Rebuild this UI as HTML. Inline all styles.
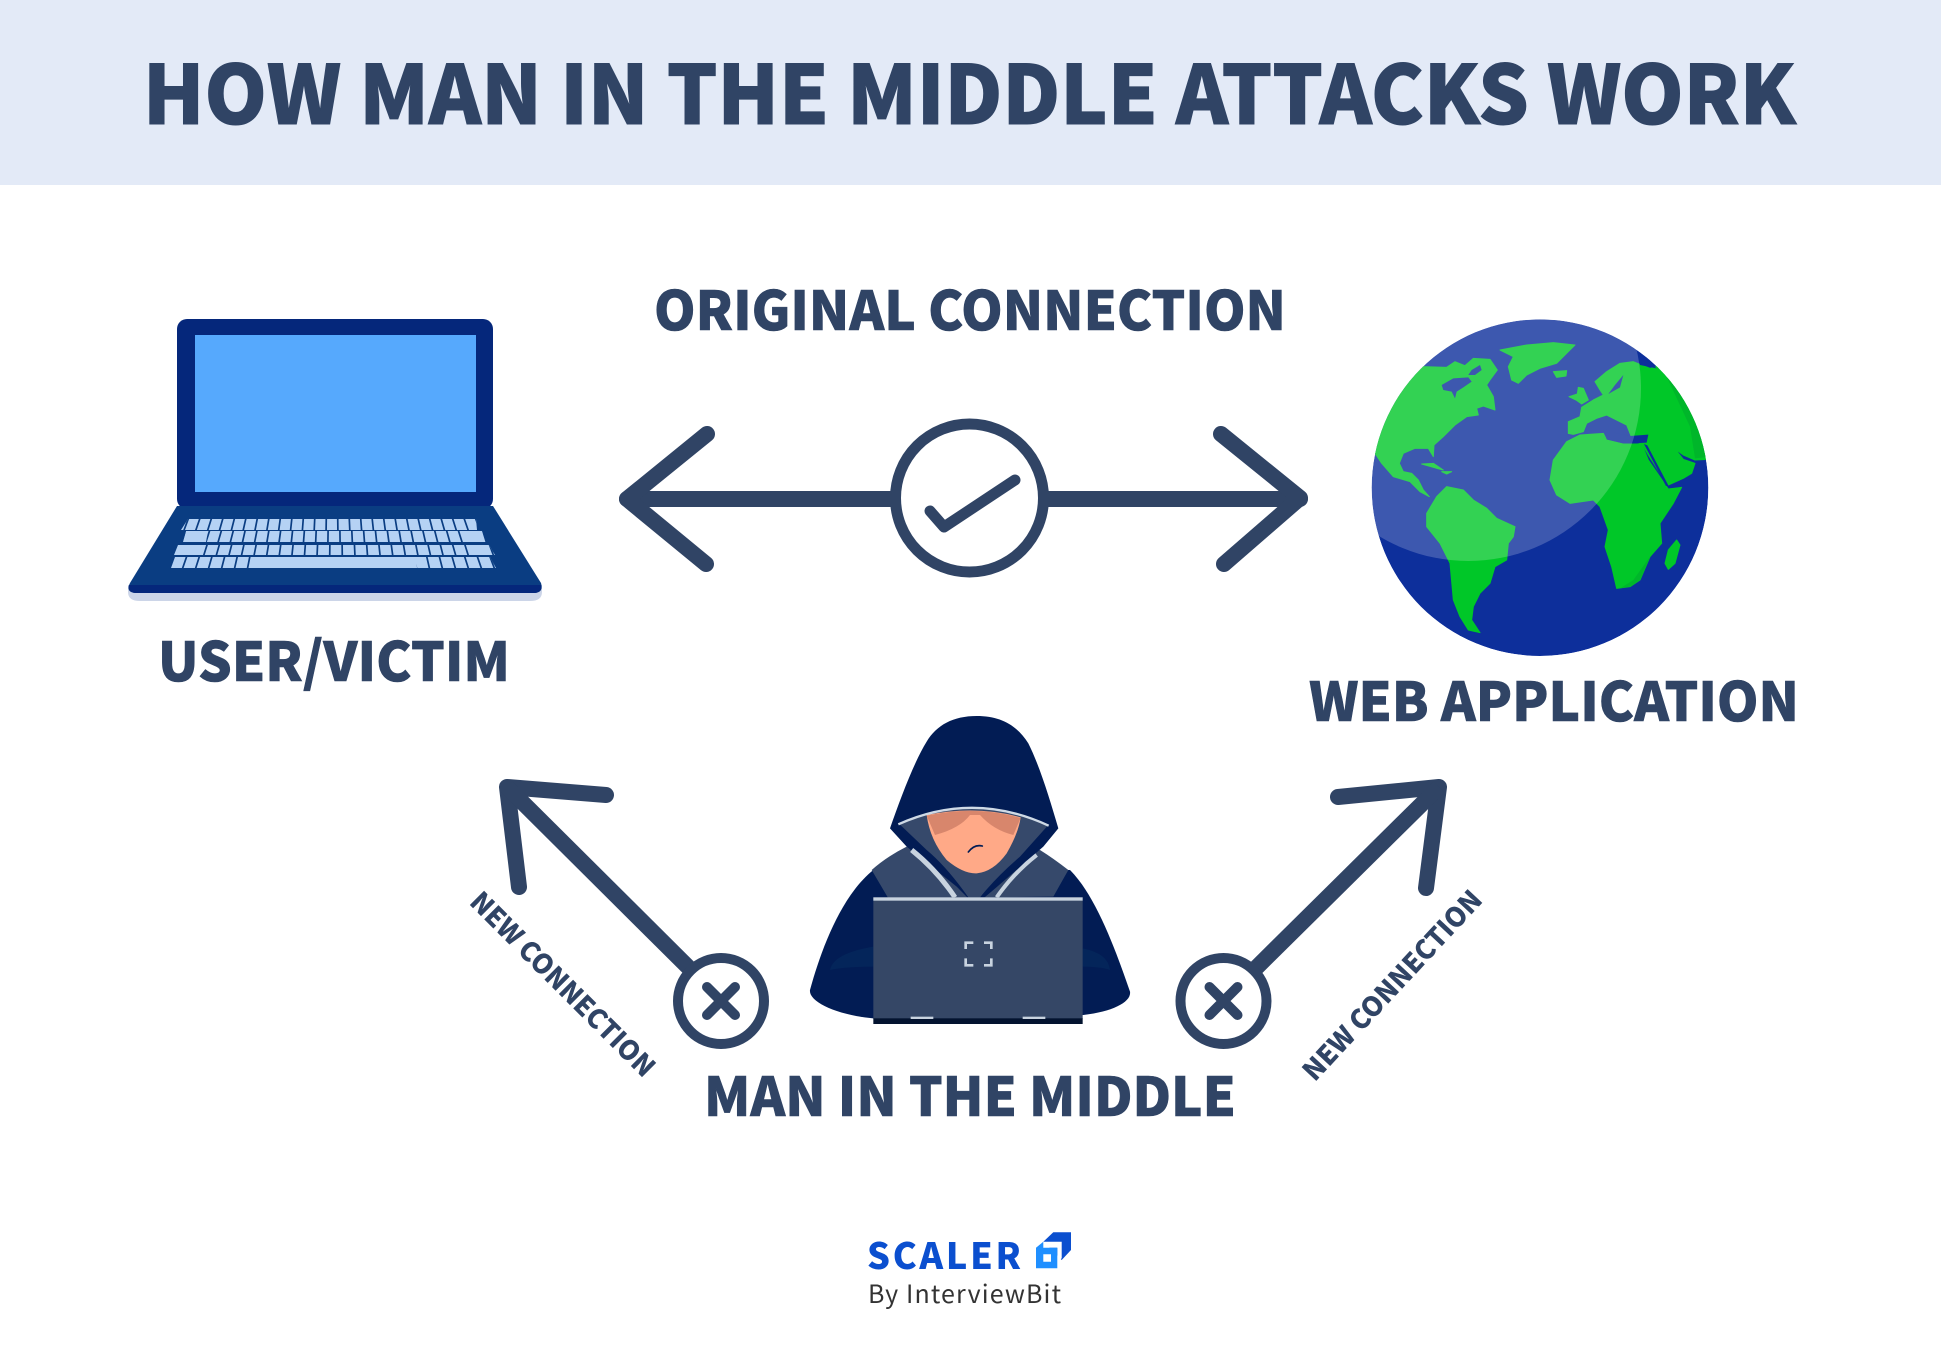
<!DOCTYPE html>
<html lang="en">
<head>
<meta charset="utf-8">
<title>How Man in the Middle Attacks Work</title>
<style>
html,body{margin:0;padding:0;background:#fff;width:1941px;height:1350px;overflow:hidden}
svg{display:block}
text{font-family:"Noto Sans CJK JP","Liberation Sans",sans-serif;font-weight:900;fill:#304465}
</style>
</head>
<body>
<svg xmlns="http://www.w3.org/2000/svg" width="1941" height="1350" viewBox="0 0 1941 1350">
<defs>
  <path id="fan" fill="none" stroke="#0a3d82" stroke-width="1.7" d="M332 138L338.5 570M332 138L351.6 570M332 138L364.6 570M332 138L377.6 570M332 138L390.7 570M332 138L403.7 570M332 138L416.8 570M332 138L429.8 570M332 138L442.8 570M332 138L455.9 570M332 138L468.9 570M332 138L482 570M332 138L495 570M332 138L325.5 570M332 138L312.4 570M332 138L299.4 570M332 138L286.4 570M332 138L273.3 570M332 138L260.3 570M332 138L247.2 570M332 138L234.2 570M332 138L221.2 570M332 138L208.1 570M332 138L195.1 570M332 138L182 570M332 138L169 570"/>
  <clipPath id="r1"><polygon points="188,519 476,519 477,530 181,530"/></clipPath>
  <clipPath id="r2"><polygon points="184,531 482,531 489,542 180,542"/></clipPath>
  <clipPath id="r3"><polygon points="178,545 489,545 495,555 174,555"/></clipPath>
  <clipPath id="r4"><polygon points="175,557 490,557 496,568 171,568"/></clipPath>
  <clipPath id="globe"><circle cx="600" cy="563" r="505"/></clipPath>
</defs>

<!-- header -->
<rect x="0" y="0" width="1941" height="185" fill="#e3eaf7"/>
<text x="143" y="124" font-size="81" textLength="1653" lengthAdjust="spacingAndGlyphs" stroke="#304465" stroke-width="1">HOW MAN IN THE MIDDLE ATTACKS WORK</text>

<!-- labels -->
<text x="654" y="330" font-size="54" textLength="632" lengthAdjust="spacingAndGlyphs" stroke="#304465" stroke-width="0.6">ORIGINAL CONNECTION</text>
<text x="158" y="681" font-size="54" textLength="352" lengthAdjust="spacingAndGlyphs" stroke="#304465" stroke-width="0.6">USER/VICTIM</text>
<text x="1309" y="721" font-size="54" textLength="490" lengthAdjust="spacingAndGlyphs" stroke="#304465" stroke-width="0.6">WEB APPLICATION</text>
<text x="704" y="1116" font-size="54" textLength="532" lengthAdjust="spacingAndGlyphs" stroke="#304465" stroke-width="0.6">MAN IN THE MIDDLE</text>

<!-- laptop -->
<path d="M128 585 L128 592 Q128 601 140 601 L530 601 Q542 601 542 592 L542 585 Z" fill="#ccd5e8"/>
<rect x="177" y="319" width="316" height="190" rx="10" fill="#05277b"/>
<rect x="195" y="335" width="281" height="157" fill="#56a9fd"/>
<path d="M177 506 L493 506 L541 583 Q544 593 533 593 L137 593 Q125 593 130 583 Z" fill="#0a3d82"/>
<path d="M129 585 L541 585 Q543 593 533 593 L137 593 Q127 593 129 585 Z" fill="#05277b"/>
<polygon points="188,519 476,519 477,530 181,530" fill="#b5d2f4"/>
<polygon points="184,531 482,531 489,542 180,542" fill="#b5d2f4"/>
<polygon points="178,545 489,545 495,555 174,555" fill="#b5d2f4"/>
<polygon points="175,557 490,557 496,568 171,568" fill="#b5d2f4"/>
<g clip-path="url(#r1)"><use href="#fan"/></g>
<g clip-path="url(#r2)"><use href="#fan" x="2"/></g>
<g clip-path="url(#r3)"><use href="#fan" x="4"/></g>
<g clip-path="url(#r4)"><use href="#fan"/></g>
<polygon points="186,531 208,531 206,542 183,542" fill="#b5d2f4"/>
<polygon points="468,531 482,531 489,542 472,542" fill="#b5d2f4"/>
<polygon points="180,545 203,545 201,555 177,555" fill="#b5d2f4"/>
<polygon points="473,545 487,545 489,555 478,555" fill="#b5d2f4"/>
<polygon points="251,557 416,557 417,568 250,568" fill="#b5d2f4"/>
<polygon points="181,531 186,531 183,542 180,542" fill="#0a3d82"/>
<polygon points="482,531 490,531 490,545 486,544" fill="#0a3d82"/>

<!-- main arrow -->
<g fill="none" stroke="#304465" stroke-linecap="round" stroke-linejoin="round">
  <path d="M627 499 H1300" stroke-width="16"/>
  <path d="M707 434 L627 499 L706 564" stroke-width="16"/>
  <path d="M1221 434 L1300 498 L1224 564" stroke-width="16"/>
</g>
<circle cx="969.5" cy="498" r="74" fill="#fff" stroke="#304465" stroke-width="11"/>
<path d="M930 511 L944 527 L1015 480" fill="none" stroke="#304465" stroke-width="11" stroke-linecap="round" stroke-linejoin="round"/>

<!-- globe -->
<g transform="translate(1340 300) scale(0.33333)">
  <g clip-path="url(#globe)">
    <circle cx="600" cy="563" r="505" fill="#0d2f9b"/>
    <g fill="#00c728" stroke="#00c728" stroke-width="3" stroke-linejoin="round">
      <path d="M40 300 L150 180 L250 200 L320 202 L345 185 L375 197 L400 175 L450 178 L472 210 L450 240 L440 255 L460 290 L465 330 L430 318 L410 325 L415 345 L380 350 L345 375 L310 410 L282 435 L280 470 L265 445 L225 445 L190 460 L178 490 L190 515 L215 520 L235 540 L250 570 L268 590 L240 575 L210 545 L160 530 L125 490 L105 460 L60 440 Z"/>
      <path d="M480 150 L560 135 L640 128 L705 135 L680 160 L650 190 L600 205 L560 225 L535 250 L515 240 L505 200 L520 170 Z"/>
      <path d="M640 215 L680 212 L678 228 L650 232 Z"/>
      <path d="M687 290 L712 282 L715 262 L730 265 L745 300 L725 312 L708 300 Z"/>
      <path d="M685 400 L685 365 L720 350 L725 322 L760 300 L790 285 L780 270 L765 245 L800 215 L840 190 L880 185 L930 205 L950 200 L1010 220 L1130 400 L1110 478 L1065 480 L1030 465 L1005 447 L1030 478 L1065 490 L1055 520 L1030 535 L985 555 L960 520 L925 465 L905 430 L880 425 L870 400 L860 375 L830 360 L800 345 L770 355 L740 370 L730 395 L700 403 Z"/>
      <path d="M630 540 L640 480 L680 425 L720 405 L790 400 L800 420 L850 432 L905 432 L925 480 L985 567 L1025 562 L1000 610 L960 670 L965 730 L930 770 L900 840 L870 860 L830 865 L815 800 L795 740 L805 690 L780 620 L760 600 L690 610 L650 585 Z"/>
      <path d="M260 640 L290 590 L320 560 L370 570 L400 600 L440 625 L470 655 L525 680 L520 710 L505 730 L500 780 L465 800 L450 850 L420 880 L400 920 L395 960 L420 998 L385 990 L360 950 L340 900 L330 790 L300 730 L260 680 Z"/>
      <path d="M1010 720 L1020 735 L1005 790 L985 808 L975 790 L985 750 Z"/>
      <path d="M245 492 L280 490 L310 510 L290 505 Z"/>
      <path d="M305 515 L335 515 L320 522 Z"/>
    </g>
    <path d="M980 230 L1060 300 L1110 470 L1065 475 L1050 380 Z" fill="#00b62a"/>
    <path d="M930 770 L900 840 L870 860 L840 865 L880 840 Z" fill="#00b62a"/>
    <g fill="#0d2f9b">
      <path d="M305 255 L340 235 L385 232 L395 245 L370 262 L350 275 L345 295 L335 275 L310 270 Z"/>
      <path d="M395 210 L420 195 L425 210 L405 225 L385 225 Z"/>
      <path d="M825 255 L850 225 L840 262 L805 282 Z"/>
      <path d="M795 400 L805 378 L822 398 L870 408 L925 404 L920 428 L880 430 L850 430 L800 418 Z"/>
      <path d="M912 432 L922 436 L985 556 L978 558 Z"/>
      <path d="M885 150 L950 205 L900 195 Z"/>
    </g>
    <circle cx="385" cy="265" r="518" fill="#ffffff" fill-opacity="0.2"/>
  </g>
</g>

<!-- hacker -->
<g transform="translate(780 700) scale(0.33333)">
  <path d="M280 510 C180 590 120 760 90 870 C85 905 170 945 280 955 L910 945 C1000 935 1055 905 1050 875 C1010 760 950 590 870 510 Z" fill="#021c54"/>
  <path d="M150 810 Q160 760 280 740 L280 800 Q200 800 150 810 Z" fill="#04255a"/>
  <path d="M990 810 Q985 760 908 745 L908 800 Q960 800 990 810 Z" fill="#04255a"/>
  <path d="M380 440 Q320 470 275 510 L325 595 L820 590 L865 510 Q820 475 780 450 Z" fill="#36496b"/>
  <path d="M590 48 C665 48 712 78 745 130 C780 200 810 300 835 385 L790 440 L640 570 L610 595 L565 595 L530 560 L380 440 L330 385 C360 300 400 190 440 125 C470 75 520 48 590 48 Z" fill="#021c54"/>
  <path d="M358 372 Q580 275 805 375 L720 470 Q650 530 600 592 L565 592 Q500 500 440 450 Z" fill="#36496b"/>
  <path d="M440 345 Q450 420 500 480 Q550 522 590 520 Q640 515 680 460 Q715 400 722 352 Q590 315 440 345 Z" fill="#ffa987"/>
  <path d="M440 347 Q590 315 722 354 L700 405 Q640 390 600 345 L570 345 Q540 385 465 405 Z" fill="#d8866c"/>
  <path d="M355 373 Q580 272 806 377" fill="none" stroke="#cfdae6" stroke-width="7"/>
  <path d="M395 450 Q470 510 525 592" fill="none" stroke="#c8d3df" stroke-width="15"/>
  <path d="M770 465 Q700 520 650 592" fill="none" stroke="#c8d3df" stroke-width="12"/>
  <path d="M565 456 Q583 432 607 438" fill="none" stroke="#021c54" stroke-width="5" stroke-linecap="round"/>
  <rect x="280" y="592" width="628" height="365" fill="#354766"/>
  <rect x="280" y="592" width="628" height="10" fill="#c8d3df"/>
  <rect x="280" y="955" width="628" height="17" fill="#03132f"/>
  <rect x="392" y="950" width="68" height="7" fill="#c8d3df"/>
  <rect x="728" y="950" width="68" height="7" fill="#c8d3df"/>
  <path d="M557 747 V728 H580 M612 728 H634 V747 M557 775 V796 H580 M612 796 H634 V775" fill="none" stroke="#c8d3df" stroke-width="8"/>
</g>

<!-- left diagonal arrow -->
<g fill="none" stroke="#304465" stroke-linecap="round" stroke-linejoin="round" stroke-width="16">
  <path d="M606 795 L507 787 L519 887"/>
  <path d="M507 787 L690 969" stroke-linecap="butt"/>
</g>
<circle cx="721" cy="1001" r="43" fill="#fff" stroke="#304465" stroke-width="10"/>
<path d="M707 987 L735 1015 M735 987 L707 1015" stroke="#304465" stroke-width="10" stroke-linecap="round"/>

<!-- right diagonal arrow -->
<g fill="none" stroke="#304465" stroke-linecap="round" stroke-linejoin="round" stroke-width="16">
  <path d="M1338 797 L1439 787 L1426 888"/>
  <path d="M1439 787 L1254 970" stroke-linecap="butt"/>
</g>
<circle cx="1223.5" cy="1001" r="43" fill="#fff" stroke="#304465" stroke-width="10"/>
<path d="M1209.5 987 L1237.5 1015 M1237.5 987 L1209.5 1015" stroke="#304465" stroke-width="10" stroke-linecap="round"/>

<!-- rotated labels -->
<text transform="translate(563 984) rotate(45)" x="0" y="10" font-size="27" text-anchor="middle" textLength="248" lengthAdjust="spacingAndGlyphs">NEW CONNECTION</text>
<text transform="translate(1392 985) rotate(-47)" x="0" y="10" font-size="27" text-anchor="middle" textLength="248" lengthAdjust="spacingAndGlyphs">NEW CONNECTION</text>

<!-- logo -->
<text x="867" y="1269" font-size="36" textLength="154" style="fill:#0b4fcf">SCALER</text>
<text x="868" y="1303" font-size="25" textLength="193" style="fill:#333;font-weight:400">By InterviewBit</text>
<path d="M1043.3 1241.7 L1053.3 1232.3 L1071 1232.3 L1071 1250 L1061.7 1260 Z" fill="#0b4fcf"/>
<path d="M1043.3 1241.7 H1061.7 V1258.3 L1057.3 1262 V1247.7 H1043.3 Z" fill="#fff"/>
<path d="M1036 1247.7 L1043.3 1241.7 V1247.7 H1057.3 V1268.3 H1036 Z M1043.3 1254.3 V1261.7 H1051 V1254.3 Z" fill="#1f8fff" fill-rule="evenodd"/>
</svg>
</body>
</html>
